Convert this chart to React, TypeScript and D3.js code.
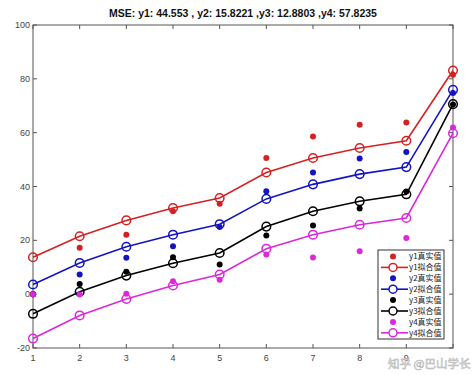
import React from "react";
import * as d3 from "d3";

const xs = [1, 2, 3, 4, 5, 6, 7, 8, 9, 10];

// measured ("真实值") and fitted ("拟合值") values per series
const y1Real = [0, 17.2, 22.1, 30.8, 33.6, 50.6, 58.6, 62.9, 63.8, 81.5];
const y1Fit = [13.7, 21.5, 27.4, 32.0, 35.7, 45.2, 50.6, 54.3, 57.0, 83.1];
const y2Real = [0, 7.3, 13.5, 17.8, 25.0, 38.2, 45.2, 50.4, 52.8, 74.7];
const y2Fit = [3.6, 11.6, 17.6, 22.1, 26.0, 35.4, 40.8, 44.6, 47.2, 75.9];
const y3Real = [0, 3.8, 8.3, 13.7, 11.0, 21.8, 25.5, 31.8, 38.1, 70.5];
const y3Fit = [-7.3, 0.9, 6.9, 11.5, 15.3, 25.1, 30.8, 34.5, 37.1, 70.6];
const y4Real = [0, -0.1, 0.2, 4.8, 5.4, 14.7, 13.6, 15.9, 20.9, 61.9];
const y4Fit = [-16.5, -7.9, -1.8, 3.2, 7.3, 16.9, 22.1, 25.8, 28.3, 59.8];

const yTicks = [-20, 0, 20, 40, 60, 80, 100];
// the last tick label sits under the watermark in the reference
const xTickLabels = ["1", "2", "3", "4", "5", "6", "7", "8", "9", ""];

const series = [
  { name: "y1", real: y1Real, fit: y1Fit, color: "#d42222" },
  { name: "y2", real: y2Real, fit: y2Fit, color: "#1414c0" },
  { name: "y3", real: y3Real, fit: y3Fit, color: "#000000" },
  { name: "y4", real: y4Real, fit: y4Fit, color: "#dc28dc" },
];

const title = "MSE: y1: 44.553 , y2: 15.8221 ,y3: 12.8803 ,y4: 57.8235";

const W = 474;
const H = 375;
const margin = { top: 25, right: 21, bottom: 27, left: 33 };

export default function App() {
  const x = d3
    .scaleLinear()
    .domain([1, 10])
    .range([margin.left, W - margin.right]);
  const y = d3
    .scaleLinear()
    .domain([-20, 100])
    .range([H - margin.bottom, margin.top]);

  const line = d3
    .line<number>()
    .x((_, i) => x(xs[i]))
    .y((d) => y(d));

  const axisColor = "#555";
  const font = "'Liberation Sans', Arial, sans-serif";
  const cjk = "'Noto Sans CJK SC', sans-serif";
  const tickLen = 4;

  // legend box
  const lx = 378;
  const ly = 250;
  const lw = 66;
  const rowH = 10.9;

  return (
    <svg
      width={W}
      height={H}
      style={{ position: "absolute", left: 0, top: 0, background: "#fff" }}
    >
      <text
        x={(margin.left + W - margin.right) / 2}
        y={17}
        textAnchor="middle"
        fontFamily={font}
        fontWeight="bold"
        fontSize={10.5}
        fill="#111"
      >
        {title}
      </text>

      {/* axes box */}
      <rect
        x={margin.left}
        y={margin.top}
        width={W - margin.left - margin.right}
        height={H - margin.top - margin.bottom}
        fill="none"
        stroke={axisColor}
        strokeWidth={1}
      />

      {yTicks.map((t) => (
        <g key={"y" + t}>
          <line x1={margin.left} x2={margin.left + tickLen} y1={y(t)} y2={y(t)} stroke={axisColor} />
          <line
            x1={W - margin.right}
            x2={W - margin.right - tickLen}
            y1={y(t)}
            y2={y(t)}
            stroke={axisColor}
          />
          <text
            x={margin.left - 3}
            y={y(t)}
            dy="0.35em"
            textAnchor="end"
            fontFamily={font}
            fontSize={9}
            fill="#444"
          >
            {t}
          </text>
        </g>
      ))}

      {xs.map((v, i) => (
        <g key={"x" + v}>
          <line
            x1={x(v)}
            x2={x(v)}
            y1={H - margin.bottom}
            y2={H - margin.bottom - tickLen}
            stroke={axisColor}
          />
          <line x1={x(v)} x2={x(v)} y1={margin.top} y2={margin.top + tickLen} stroke={axisColor} />
          {xTickLabels[i] && (
            <text
              x={x(v)}
              y={H - margin.bottom + 13}
              textAnchor="middle"
              fontFamily={font}
              fontSize={9}
              fill="#444"
            >
              {xTickLabels[i]}
            </text>
          )}
        </g>
      ))}

      {series.map((s) => (
        <g key={s.name}>
          {s.real.map((v, i) => (
            <circle key={"r" + i} cx={x(xs[i])} cy={y(v)} r={3} fill={s.color} />
          ))}
          <path d={line(s.fit) || ""} fill="none" stroke={s.color} strokeWidth={1.6} />
          {s.fit.map((v, i) => (
            <circle
              key={"f" + i}
              cx={x(xs[i])}
              cy={y(v)}
              r={4.3}
              fill="none"
              stroke={s.color}
              strokeWidth={1.5}
            />
          ))}
        </g>
      ))}

      {/* legend */}
      <rect x={lx} y={ly} width={lw} height={89} fill="#fff" stroke="#333" strokeWidth={1} />
      {series.map((s, k) => {
        const r1 = ly + 6.5 + rowH * (2 * k);
        const r2 = r1 + rowH;
        return (
          <g key={"lg" + s.name}>
            <circle cx={lx + 15} cy={r1} r={3} fill={s.color} />
            <text x={lx + 31} y={r1} dy="0.35em" fontFamily={cjk} fontSize={8} fill="#222">
              {s.name + "真实值"}
            </text>
            <line x1={lx + 3} x2={lx + 30} y1={r2} y2={r2} stroke={s.color} strokeWidth={1.6} />
            <circle cx={lx + 15} cy={r2} r={4} fill="#fff" stroke={s.color} strokeWidth={1.5} />
            <text x={lx + 31} y={r2} dy="0.35em" fontFamily={cjk} fontSize={8} fill="#222">
              {s.name + "拟合值"}
            </text>
          </g>
        );
      })}

      {/* watermark */}
      <text
        x={388}
        y={368}
        fontFamily={cjk}
        fontSize={11.5}
        fill="#ffffff"
        stroke="#b8b8b8"
        strokeWidth={0.6}
      >
        知乎 @巴山学长
      </text>
    </svg>
  );
}
